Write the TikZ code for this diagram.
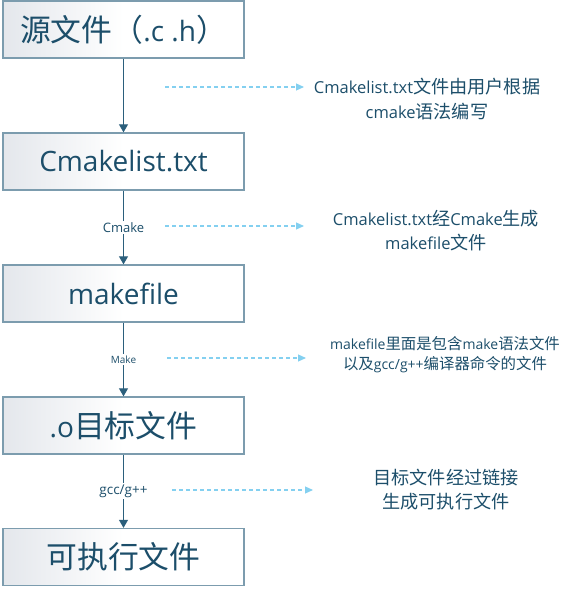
\documentclass[tikz,border=0pt]{standalone}
\usepackage{fontspec}
\setmainfont{Open Sans}
\newfontfamily\cjk[Scale=1.1]{Noto Sans CJK SC}
\usetikzlibrary{arrows.meta}
\definecolor{txt}{HTML}{1C4E6A}
\definecolor{boxline}{HTML}{7C9CAE}
\definecolor{arr}{HTML}{2B5F7C}
\definecolor{dashc}{HTML}{84D0F0}
\definecolor{shadec}{HTML}{E4E7EC}
\begin{document}
\begin{tikzpicture}[x=1pt,y=-1pt]
\useasboundingbox (0,0) rectangle (572,589);
\tikzset{
  box/.style={draw=boxline, line width=1.3pt, left color=shadec, right color=white, middle color=white,
    minimum width=241pt, minimum height=57pt, inner sep=0pt, text=txt,
    font=\fontsize{28}{30}\selectfont},
  conn/.style={draw=arr, line width=0.9pt, -{Triangle[length=8pt,width=9pt]}},
  lbl/.style={fill=white, text=txt, inner sep=1.5pt},
  dasharrow/.style={draw=dashc, line width=1.1pt, dash pattern=on 4pt off 3pt,
    -{Triangle[length=8pt,width=7pt]}},
  note/.style={text=txt, align=center, inner sep=0pt}
}
\node[box] (b1) at (123.5,29.5) {{\cjk 源文件（}.c .h{\cjk ）}};
\node[box] (b2) at (123.5,161.5) {Cmakelist.txt};
\node[box] (b3) at (123.5,293.5) {makefile};
\node[box] (b4) at (123.5,425.5) {.o{\cjk 目标文件}};
\node[box] (b5) at (123.5,557) {{\cjk 可执行文件}};

\draw[conn] (b1) -- (b2);
\draw[conn] (b2) -- node[lbl, font=\fontsize{13}{14}\selectfont] (l1) {Cmake} (b3);
\draw[conn] (b3) -- node[lbl, font=\fontsize{10}{11}\selectfont] (l2) {Make} (b4);
\draw[conn] (b4) -- node[lbl, font=\fontsize{13.5}{14}\selectfont] (l3) {gcc/g++} (b5);

\node[note, font=\fontsize{16.5}{25}\selectfont] (t1) at (427,99.5)
  {Cmakelist.txt{\cjk 文件由用户根据}\\cmake{\cjk 语法编写}};
\node[note, font=\fontsize{16.5}{24}\selectfont] (t2) at (436,231)
  {Cmakelist.txt{\cjk 经}Cmake{\cjk 生成}\\makefile{\cjk 文件}};
\node[note, font=\fontsize{14}{20}\selectfont] (t3) at (445,355)
  {makefile{\cjk 里面是包含}make{\cjk 语法文件}\\{\cjk 以及}gcc/g++{\cjk 编译器命令的文件}};
\node[note, font=\fontsize{16.5}{24}\selectfont] (t4) at (446,490)
  {{\cjk 目标文件经过链接}\\{\cjk 生成可执行文件}};

\coordinate (d1s) at (165,87);  \coordinate (d1e) at (304,87);
\coordinate (d2s) at (165,226); \coordinate (d2e) at (304,226);
\coordinate (d3s) at (167,358); \coordinate (d3e) at (306,358);
\coordinate (d4s) at (172,490); \coordinate (d4e) at (313,490);
\draw[dasharrow] (d1s) -- (d1e);
\draw[dasharrow] (d2s) -- (d2e);
\draw[dasharrow] (d3s) -- (d3e);
\draw[dasharrow] (d4s) -- (d4e);
\end{tikzpicture}
\end{document}
